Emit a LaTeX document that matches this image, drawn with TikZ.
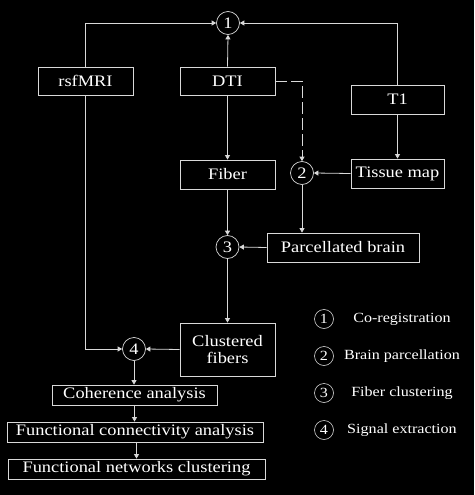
\documentclass[tikz,border=0pt]{standalone}
\usepackage{fontspec}
\setmainfont{Liberation Serif}[FakeStretch=1.15]
\usepackage{tikz}
\usetikzlibrary{arrows.meta}

\tikzset{
  box/.style={draw=white!85!black, line width=0.8pt, text=white, inner sep=1pt,
    font=\fontsize{16}{17}\selectfont},
  stage/.style={draw=white!85!black, circle, line width=0.7pt, text=white,
    minimum size=23pt, inner sep=0pt, font=\fontsize{16}{17}\selectfont},
  key/.style={draw=white!85!black, circle, line width=0.6pt, text=white,
    minimum size=19pt, inner sep=0pt, font=\fontsize{14}{15}\selectfont},
  flow/.style={draw=white!85!black, line width=0.8pt,
    -{Triangle[length=4.5pt,width=5pt]}},
}

\begin{document}
\begin{tikzpicture}[x=1pt,y=-1pt]
        % Background
        \fill [black] (0,0) rectangle (474,495);
        \useasboundingbox (0,0) rectangle (474,495);
        % Inputs
        \node[box, minimum width=95pt, minimum height=28pt] (rsfmri) at (85.5,81) {rsfMRI};
        \node[box, minimum width=95pt, minimum height=28pt] (dti) at (227.5,81) {DTI};
        \node[box, minimum width=93pt, minimum height=29pt] (t1) at (397.5,99.5) {T1};
        \node[box, minimum width=95pt, minimum height=29pt] (fiber) at (227.5,174.5) {Fiber};
        \node[box, minimum width=93pt, minimum height=29pt] (tissue) at (397.5,173.5) {Tissue map};
        \node[box, minimum width=152pt, minimum height=29pt] (parcel) at (343,247.5) {Parcellated brain};
        \node[box, minimum width=95pt, minimum height=53pt, align=center] (clustered) at (227.5,349.5) {Clustered\\fibers};
        % Outputs
        \node[box, minimum width=165pt, minimum height=20pt] (coherence) at (134.5,395) {Coherence analysis};
        \node[box, minimum width=256pt, minimum height=20pt] (connect) at (135,432) {Functional connectivity analysis};
        \node[box, minimum width=257pt, minimum height=20pt] (networks) at (136.5,469) {Functional networks clustering};
        % Steps
        \node[stage] (s1) at (228,23) {1};
        \node[stage] (s2) at (302,173) {2};
        \node[stage] (s3) at (227.5,247) {3};
        \node[stage] (s4) at (134,349) {4};
        % Connections
        \draw[flow] (rsfmri.north) |- (s1.west);
        \draw[flow] (t1.north) |- (s1.east);
        \draw[flow] (dti.north) -- (s1.south);
        \draw[flow] (dti.south) -- (fiber.north);
        \draw[flow, dash pattern=on 12pt off 4pt] (dti.east) -| (s2.north);
        \draw[flow] (t1.south) -- (tissue.north);
        \draw[flow] (tissue.west) -- (s2.east);
        \draw[flow] (s2.south) -- (s2.south |- parcel.north);
        \draw[flow] (fiber.south) -- (s3.north);
        \draw[flow] (parcel.west) -- (s3.east);
        \draw[flow] (s3.south) -- (s3.south |- clustered.north);
        \draw[flow] (rsfmri.south) |- (s4.west);
        \draw[flow] (clustered.west) -- (s4.east);
        \draw[flow] (s4.south) -- (s4.south |- coherence.north);
        \draw[flow] (coherence.south) -- (coherence.south |- connect.north);
        \draw[flow] ([xshift=1.5pt]connect.south) -- ([xshift=1.5pt]connect.south |- networks.north);
        % Legend
        \foreach \n/\y/\txt in {1/319/Co-registration, 2/356/Brain parcellation,
                                 3/393/Fiber clustering, 4/430/Signal extraction}{
          \node[key] (k\n) at (324,\y) {\n};
          \node[text=white, font=\fontsize{14}{15}\selectfont] (t\n) at (402,\y) {\txt};
        }
\end{tikzpicture}
\end{document}
